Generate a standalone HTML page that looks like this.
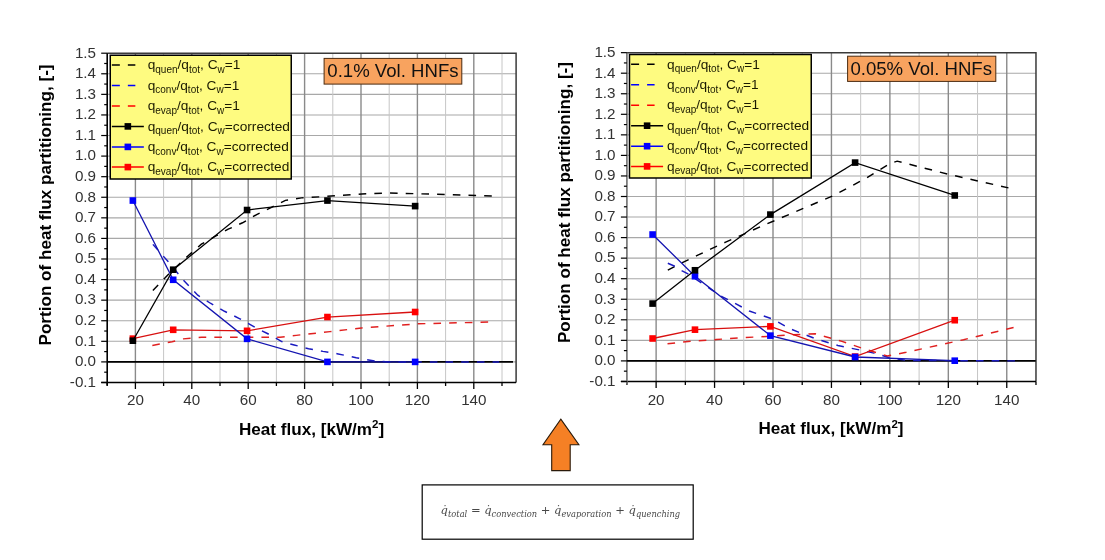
<!DOCTYPE html>
<html><head><meta charset="utf-8"><title>Heat flux partitioning</title>
<style>
html,body{margin:0;padding:0;background:#fff;}
body{width:1105px;height:560px;overflow:hidden;}
svg{display:block;font-family:"Liberation Sans", Arial, sans-serif;}
</style></head>
<body>
<svg width="1105" height="560" viewBox="0 0 1105 560">
<rect x="0" y="0" width="1105" height="560" fill="#fff"/>
<line x1="107.2" y1="361.9" x2="516.1" y2="361.9" stroke="#a8a8a8" stroke-width="1.1"/>
<line x1="107.2" y1="341.32" x2="516.1" y2="341.32" stroke="#a8a8a8" stroke-width="1.1"/>
<line x1="107.2" y1="320.74" x2="516.1" y2="320.74" stroke="#a8a8a8" stroke-width="1.1"/>
<line x1="107.2" y1="300.16" x2="516.1" y2="300.16" stroke="#a8a8a8" stroke-width="1.1"/>
<line x1="107.2" y1="279.58" x2="516.1" y2="279.58" stroke="#a8a8a8" stroke-width="1.1"/>
<line x1="107.2" y1="259" x2="516.1" y2="259" stroke="#a8a8a8" stroke-width="1.1"/>
<line x1="107.2" y1="238.42" x2="516.1" y2="238.42" stroke="#a8a8a8" stroke-width="1.1"/>
<line x1="107.2" y1="217.84" x2="516.1" y2="217.84" stroke="#a8a8a8" stroke-width="1.1"/>
<line x1="107.2" y1="197.26" x2="516.1" y2="197.26" stroke="#a8a8a8" stroke-width="1.1"/>
<line x1="107.2" y1="176.68" x2="516.1" y2="176.68" stroke="#a8a8a8" stroke-width="1.1"/>
<line x1="107.2" y1="156.1" x2="516.1" y2="156.1" stroke="#a8a8a8" stroke-width="1.1"/>
<line x1="107.2" y1="135.52" x2="516.1" y2="135.52" stroke="#a8a8a8" stroke-width="1.1"/>
<line x1="107.2" y1="114.94" x2="516.1" y2="114.94" stroke="#a8a8a8" stroke-width="1.1"/>
<line x1="107.2" y1="94.36" x2="516.1" y2="94.36" stroke="#a8a8a8" stroke-width="1.1"/>
<line x1="107.2" y1="73.78" x2="516.1" y2="73.78" stroke="#a8a8a8" stroke-width="1.1"/>
<line x1="135.4" y1="53.2" x2="135.4" y2="382.48" stroke="#8a8a8a" stroke-width="1.4"/>
<line x1="163.6" y1="53.2" x2="163.6" y2="382.48" stroke="#c6c6c6" stroke-width="1"/>
<line x1="191.8" y1="53.2" x2="191.8" y2="382.48" stroke="#8a8a8a" stroke-width="1.4"/>
<line x1="220" y1="53.2" x2="220" y2="382.48" stroke="#c6c6c6" stroke-width="1"/>
<line x1="248.2" y1="53.2" x2="248.2" y2="382.48" stroke="#8a8a8a" stroke-width="1.4"/>
<line x1="276.4" y1="53.2" x2="276.4" y2="382.48" stroke="#c6c6c6" stroke-width="1"/>
<line x1="304.6" y1="53.2" x2="304.6" y2="382.48" stroke="#8a8a8a" stroke-width="1.4"/>
<line x1="332.8" y1="53.2" x2="332.8" y2="382.48" stroke="#c6c6c6" stroke-width="1"/>
<line x1="361" y1="53.2" x2="361" y2="382.48" stroke="#8a8a8a" stroke-width="1.4"/>
<line x1="389.2" y1="53.2" x2="389.2" y2="382.48" stroke="#c6c6c6" stroke-width="1"/>
<line x1="417.4" y1="53.2" x2="417.4" y2="382.48" stroke="#8a8a8a" stroke-width="1.4"/>
<line x1="445.6" y1="53.2" x2="445.6" y2="382.48" stroke="#c6c6c6" stroke-width="1"/>
<line x1="473.8" y1="53.2" x2="473.8" y2="382.48" stroke="#8a8a8a" stroke-width="1.4"/>
<line x1="502" y1="53.2" x2="502" y2="382.48" stroke="#c6c6c6" stroke-width="1"/>
<polyline points="107.2,53.2 516.1,53.2 516.1,382.48" fill="none" stroke="#3a3a3a" stroke-width="1.5"/>
<line x1="101.2" y1="382.48" x2="516.1" y2="382.48" stroke="#000" stroke-width="1.5"/>
<line x1="107.2" y1="382.48" x2="107.2" y2="385.98" stroke="#000" stroke-width="1.3"/>
<line x1="135.4" y1="382.48" x2="135.4" y2="388.98" stroke="#000" stroke-width="1.3"/>
<line x1="163.6" y1="382.48" x2="163.6" y2="385.98" stroke="#000" stroke-width="1.3"/>
<line x1="191.8" y1="382.48" x2="191.8" y2="388.98" stroke="#000" stroke-width="1.3"/>
<line x1="220" y1="382.48" x2="220" y2="385.98" stroke="#000" stroke-width="1.3"/>
<line x1="248.2" y1="382.48" x2="248.2" y2="388.98" stroke="#000" stroke-width="1.3"/>
<line x1="276.4" y1="382.48" x2="276.4" y2="385.98" stroke="#000" stroke-width="1.3"/>
<line x1="304.6" y1="382.48" x2="304.6" y2="388.98" stroke="#000" stroke-width="1.3"/>
<line x1="332.8" y1="382.48" x2="332.8" y2="385.98" stroke="#000" stroke-width="1.3"/>
<line x1="361" y1="382.48" x2="361" y2="388.98" stroke="#000" stroke-width="1.3"/>
<line x1="389.2" y1="382.48" x2="389.2" y2="385.98" stroke="#000" stroke-width="1.3"/>
<line x1="417.4" y1="382.48" x2="417.4" y2="388.98" stroke="#000" stroke-width="1.3"/>
<line x1="445.6" y1="382.48" x2="445.6" y2="385.98" stroke="#000" stroke-width="1.3"/>
<line x1="473.8" y1="382.48" x2="473.8" y2="388.98" stroke="#000" stroke-width="1.3"/>
<line x1="502" y1="382.48" x2="502" y2="385.98" stroke="#000" stroke-width="1.3"/>
<line x1="107.2" y1="53.2" x2="107.2" y2="385.48" stroke="#000" stroke-width="1.6"/>
<line x1="101.2" y1="382.48" x2="107.2" y2="382.48" stroke="#000" stroke-width="1.2"/>
<line x1="104.2" y1="372.19" x2="107.2" y2="372.19" stroke="#000" stroke-width="1.2"/>
<line x1="101.2" y1="361.9" x2="107.2" y2="361.9" stroke="#000" stroke-width="1.2"/>
<line x1="104.2" y1="351.61" x2="107.2" y2="351.61" stroke="#000" stroke-width="1.2"/>
<line x1="101.2" y1="341.32" x2="107.2" y2="341.32" stroke="#000" stroke-width="1.2"/>
<line x1="104.2" y1="331.03" x2="107.2" y2="331.03" stroke="#000" stroke-width="1.2"/>
<line x1="101.2" y1="320.74" x2="107.2" y2="320.74" stroke="#000" stroke-width="1.2"/>
<line x1="104.2" y1="310.45" x2="107.2" y2="310.45" stroke="#000" stroke-width="1.2"/>
<line x1="101.2" y1="300.16" x2="107.2" y2="300.16" stroke="#000" stroke-width="1.2"/>
<line x1="104.2" y1="289.87" x2="107.2" y2="289.87" stroke="#000" stroke-width="1.2"/>
<line x1="101.2" y1="279.58" x2="107.2" y2="279.58" stroke="#000" stroke-width="1.2"/>
<line x1="104.2" y1="269.29" x2="107.2" y2="269.29" stroke="#000" stroke-width="1.2"/>
<line x1="101.2" y1="259" x2="107.2" y2="259" stroke="#000" stroke-width="1.2"/>
<line x1="104.2" y1="248.71" x2="107.2" y2="248.71" stroke="#000" stroke-width="1.2"/>
<line x1="101.2" y1="238.42" x2="107.2" y2="238.42" stroke="#000" stroke-width="1.2"/>
<line x1="104.2" y1="228.13" x2="107.2" y2="228.13" stroke="#000" stroke-width="1.2"/>
<line x1="101.2" y1="217.84" x2="107.2" y2="217.84" stroke="#000" stroke-width="1.2"/>
<line x1="104.2" y1="207.55" x2="107.2" y2="207.55" stroke="#000" stroke-width="1.2"/>
<line x1="101.2" y1="197.26" x2="107.2" y2="197.26" stroke="#000" stroke-width="1.2"/>
<line x1="104.2" y1="186.97" x2="107.2" y2="186.97" stroke="#000" stroke-width="1.2"/>
<line x1="101.2" y1="176.68" x2="107.2" y2="176.68" stroke="#000" stroke-width="1.2"/>
<line x1="104.2" y1="166.39" x2="107.2" y2="166.39" stroke="#000" stroke-width="1.2"/>
<line x1="101.2" y1="156.1" x2="107.2" y2="156.1" stroke="#000" stroke-width="1.2"/>
<line x1="104.2" y1="145.81" x2="107.2" y2="145.81" stroke="#000" stroke-width="1.2"/>
<line x1="101.2" y1="135.52" x2="107.2" y2="135.52" stroke="#000" stroke-width="1.2"/>
<line x1="104.2" y1="125.23" x2="107.2" y2="125.23" stroke="#000" stroke-width="1.2"/>
<line x1="101.2" y1="114.94" x2="107.2" y2="114.94" stroke="#000" stroke-width="1.2"/>
<line x1="104.2" y1="104.65" x2="107.2" y2="104.65" stroke="#000" stroke-width="1.2"/>
<line x1="101.2" y1="94.36" x2="107.2" y2="94.36" stroke="#000" stroke-width="1.2"/>
<line x1="104.2" y1="84.07" x2="107.2" y2="84.07" stroke="#000" stroke-width="1.2"/>
<line x1="101.2" y1="73.78" x2="107.2" y2="73.78" stroke="#000" stroke-width="1.2"/>
<line x1="104.2" y1="63.49" x2="107.2" y2="63.49" stroke="#000" stroke-width="1.2"/>
<line x1="101.2" y1="53.2" x2="107.2" y2="53.2" stroke="#000" stroke-width="1.2"/>
<text x="96" y="386.78" text-anchor="end" font-size="15.2" fill="#333">-0.1</text>
<text x="96" y="366.2" text-anchor="end" font-size="15.2" fill="#333">0.0</text>
<text x="96" y="345.62" text-anchor="end" font-size="15.2" fill="#333">0.1</text>
<text x="96" y="325.04" text-anchor="end" font-size="15.2" fill="#333">0.2</text>
<text x="96" y="304.46" text-anchor="end" font-size="15.2" fill="#333">0.3</text>
<text x="96" y="283.88" text-anchor="end" font-size="15.2" fill="#333">0.4</text>
<text x="96" y="263.3" text-anchor="end" font-size="15.2" fill="#333">0.5</text>
<text x="96" y="242.72" text-anchor="end" font-size="15.2" fill="#333">0.6</text>
<text x="96" y="222.14" text-anchor="end" font-size="15.2" fill="#333">0.7</text>
<text x="96" y="201.56" text-anchor="end" font-size="15.2" fill="#333">0.8</text>
<text x="96" y="180.98" text-anchor="end" font-size="15.2" fill="#333">0.9</text>
<text x="96" y="160.4" text-anchor="end" font-size="15.2" fill="#333">1.0</text>
<text x="96" y="139.82" text-anchor="end" font-size="15.2" fill="#333">1.1</text>
<text x="96" y="119.24" text-anchor="end" font-size="15.2" fill="#333">1.2</text>
<text x="96" y="98.66" text-anchor="end" font-size="15.2" fill="#333">1.3</text>
<text x="96" y="78.08" text-anchor="end" font-size="15.2" fill="#333">1.4</text>
<text x="96" y="57.5" text-anchor="end" font-size="15.2" fill="#333">1.5</text>
<text x="135.4" y="405" text-anchor="middle" font-size="15.2" fill="#333">20</text>
<text x="191.8" y="405" text-anchor="middle" font-size="15.2" fill="#333">40</text>
<text x="248.2" y="405" text-anchor="middle" font-size="15.2" fill="#333">60</text>
<text x="304.6" y="405" text-anchor="middle" font-size="15.2" fill="#333">80</text>
<text x="361" y="405" text-anchor="middle" font-size="15.2" fill="#333">100</text>
<text x="417.4" y="405" text-anchor="middle" font-size="15.2" fill="#333">120</text>
<text x="473.8" y="405" text-anchor="middle" font-size="15.2" fill="#333">140</text>
<line x1="107.2" y1="361.9" x2="513" y2="361.9" stroke="#000" stroke-width="1.6"/>
<polyline points="152.88,290.49 169.24,273.41 187.01,256.74 201.39,244.18 215.49,236.16 228.18,229.16 242.56,222.78 256.66,214.55 271.04,207.55 285.42,200.35 301.5,197.88 319.26,196.85 361.85,193.97 389.76,192.94 445.6,194.58 494.39,196.03" fill="none" stroke="#000" stroke-width="1.45" stroke-dasharray="7.6 8.1"/>
<polyline points="152.88,244.39 167.83,261.26 183.34,279.99 197.72,295.22 210.41,303.25 224.51,311.27 238.89,318.27 254.97,327.33 267.38,333.5 281.76,341.53 294.17,345.02 308.55,348.73 322.93,351.4 337.03,353.67 356.21,357.78 376.23,361.28 389.2,361.9 499.18,361.9" fill="none" stroke="#1a1ac0" stroke-width="1.45" stroke-dasharray="7.6 8.1"/>
<polyline points="152.32,345.44 172.06,341.73 183.34,338.85 201.39,337.2 280.07,337.2 296.14,335.35 329.98,331.65 361.56,327.94 417.96,323.83 490.44,321.97" fill="none" stroke="#e02020" stroke-width="1.45" stroke-dasharray="7.6 8.1"/>
<polyline points="132.86,338.64 173.19,329.8 247.07,330.82 327.44,317.04 415.14,311.99" fill="none" stroke="#d81010" stroke-width="1.3"/>
<rect x="129.56" y="335.34" width="6.6" height="6.6" fill="#ff0000"/>
<rect x="169.89" y="326.5" width="6.6" height="6.6" fill="#ff0000"/>
<rect x="243.77" y="327.52" width="6.6" height="6.6" fill="#ff0000"/>
<rect x="324.14" y="313.74" width="6.6" height="6.6" fill="#ff0000"/>
<rect x="411.84" y="308.69" width="6.6" height="6.6" fill="#ff0000"/>
<polyline points="132.86,200.55 173.19,279.79 247.07,338.85 327.44,361.9 415.14,361.9" fill="none" stroke="#1414b0" stroke-width="1.3"/>
<rect x="129.56" y="197.25" width="6.6" height="6.6" fill="#0000ff"/>
<rect x="169.89" y="276.49" width="6.6" height="6.6" fill="#0000ff"/>
<rect x="243.77" y="335.55" width="6.6" height="6.6" fill="#0000ff"/>
<rect x="324.14" y="358.6" width="6.6" height="6.6" fill="#0000ff"/>
<rect x="411.84" y="358.6" width="6.6" height="6.6" fill="#0000ff"/>
<polyline points="132.86,340.7 173.19,269.7 247.07,210.02 327.44,200.55 415.14,206.11" fill="none" stroke="#000" stroke-width="1.3"/>
<rect x="129.56" y="337.4" width="6.6" height="6.6" fill="#000"/>
<rect x="169.89" y="266.4" width="6.6" height="6.6" fill="#000"/>
<rect x="243.77" y="206.72" width="6.6" height="6.6" fill="#000"/>
<rect x="324.14" y="197.25" width="6.6" height="6.6" fill="#000"/>
<rect x="411.84" y="202.81" width="6.6" height="6.6" fill="#000"/>
<rect x="110.25" y="55.25" width="181" height="123.75" fill="#fefb80" stroke="#000" stroke-width="1.5"/>
<line x1="111.85" y1="65" x2="135.35" y2="65" stroke="#000" stroke-width="1.5" stroke-dasharray="8 8"/>
<line x1="111.85" y1="85.4" x2="135.35" y2="85.4" stroke="#0000ff" stroke-width="1.5" stroke-dasharray="8 8"/>
<line x1="111.85" y1="105.9" x2="135.35" y2="105.9" stroke="#ff0000" stroke-width="1.5" stroke-dasharray="8 8"/>
<line x1="111.85" y1="126.4" x2="143.85" y2="126.4" stroke="#000" stroke-width="1.5"/>
<rect x="124.55" y="123.1" width="6.6" height="6.6" fill="#000"/>
<line x1="111.85" y1="146.9" x2="143.85" y2="146.9" stroke="#0000ff" stroke-width="1.5"/>
<rect x="124.55" y="143.6" width="6.6" height="6.6" fill="#0000ff"/>
<line x1="111.85" y1="167.1" x2="143.85" y2="167.1" stroke="#ff0000" stroke-width="1.5"/>
<rect x="124.55" y="163.8" width="6.6" height="6.6" fill="#ff0000"/>
<text x="147.7" y="69.2" font-size="13.7" fill="#1a1a00">q<tspan font-size="10" dy="3.8">quen</tspan><tspan dy="-3.8">/q</tspan><tspan font-size="10" dy="3.8">tot</tspan><tspan dy="-3.8">, C</tspan><tspan font-size="10" dy="3.8">w</tspan><tspan dy="-3.8">=1</tspan></text>
<text x="147.7" y="89.6" font-size="13.7" fill="#1a1a00">q<tspan font-size="10" dy="3.8">conv</tspan><tspan dy="-3.8">/q</tspan><tspan font-size="10" dy="3.8">tot</tspan><tspan dy="-3.8">, C</tspan><tspan font-size="10" dy="3.8">w</tspan><tspan dy="-3.8">=1</tspan></text>
<text x="147.7" y="110.1" font-size="13.7" fill="#1a1a00">q<tspan font-size="10" dy="3.8">evap</tspan><tspan dy="-3.8">/q</tspan><tspan font-size="10" dy="3.8">tot</tspan><tspan dy="-3.8">, C</tspan><tspan font-size="10" dy="3.8">w</tspan><tspan dy="-3.8">=1</tspan></text>
<text x="147.7" y="130.6" font-size="13.7" fill="#1a1a00">q<tspan font-size="10" dy="3.8">quen</tspan><tspan dy="-3.8">/q</tspan><tspan font-size="10" dy="3.8">tot</tspan><tspan dy="-3.8">, C</tspan><tspan font-size="10" dy="3.8">w</tspan><tspan dy="-3.8">=corrected</tspan></text>
<text x="147.7" y="151.1" font-size="13.7" fill="#1a1a00">q<tspan font-size="10" dy="3.8">conv</tspan><tspan dy="-3.8">/q</tspan><tspan font-size="10" dy="3.8">tot</tspan><tspan dy="-3.8">, C</tspan><tspan font-size="10" dy="3.8">w</tspan><tspan dy="-3.8">=corrected</tspan></text>
<text x="147.7" y="171.3" font-size="13.7" fill="#1a1a00">q<tspan font-size="10" dy="3.8">evap</tspan><tspan dy="-3.8">/q</tspan><tspan font-size="10" dy="3.8">tot</tspan><tspan dy="-3.8">, C</tspan><tspan font-size="10" dy="3.8">w</tspan><tspan dy="-3.8">=corrected</tspan></text>
<rect x="324.1" y="58.4" width="137.7" height="25.7" fill="#f8a35f" stroke="#4a2a10" stroke-width="1"/><text x="327.3" y="77.3" font-size="18.6" fill="#111">0.1% Vol. HNFs</text>
<text transform="translate(50.5,345.5) rotate(-90)" font-size="17.1" font-weight="bold" fill="#000">Portion of heat flux partitioning, [-]</text><text x="239" y="434.6" font-size="17.1" font-weight="bold" fill="#000">Heat flux, [kW/m<tspan font-size="11.5" dy="-6.5">2</tspan><tspan dy="6.5">]</tspan></text>
<line x1="626.9" y1="360.9" x2="1035.98" y2="360.9" stroke="#a8a8a8" stroke-width="1.1"/>
<line x1="626.9" y1="340.35" x2="1035.98" y2="340.35" stroke="#a8a8a8" stroke-width="1.1"/>
<line x1="626.9" y1="319.8" x2="1035.98" y2="319.8" stroke="#a8a8a8" stroke-width="1.1"/>
<line x1="626.9" y1="299.25" x2="1035.98" y2="299.25" stroke="#a8a8a8" stroke-width="1.1"/>
<line x1="626.9" y1="278.7" x2="1035.98" y2="278.7" stroke="#a8a8a8" stroke-width="1.1"/>
<line x1="626.9" y1="258.15" x2="1035.98" y2="258.15" stroke="#a8a8a8" stroke-width="1.1"/>
<line x1="626.9" y1="237.6" x2="1035.98" y2="237.6" stroke="#a8a8a8" stroke-width="1.1"/>
<line x1="626.9" y1="217.05" x2="1035.98" y2="217.05" stroke="#a8a8a8" stroke-width="1.1"/>
<line x1="626.9" y1="196.5" x2="1035.98" y2="196.5" stroke="#a8a8a8" stroke-width="1.1"/>
<line x1="626.9" y1="175.95" x2="1035.98" y2="175.95" stroke="#a8a8a8" stroke-width="1.1"/>
<line x1="626.9" y1="155.4" x2="1035.98" y2="155.4" stroke="#a8a8a8" stroke-width="1.1"/>
<line x1="626.9" y1="134.85" x2="1035.98" y2="134.85" stroke="#a8a8a8" stroke-width="1.1"/>
<line x1="626.9" y1="114.3" x2="1035.98" y2="114.3" stroke="#a8a8a8" stroke-width="1.1"/>
<line x1="626.9" y1="93.75" x2="1035.98" y2="93.75" stroke="#a8a8a8" stroke-width="1.1"/>
<line x1="626.9" y1="73.2" x2="1035.98" y2="73.2" stroke="#a8a8a8" stroke-width="1.1"/>
<line x1="656.12" y1="52.65" x2="656.12" y2="381.45" stroke="#8a8a8a" stroke-width="1.4"/>
<line x1="685.34" y1="52.65" x2="685.34" y2="381.45" stroke="#c6c6c6" stroke-width="1"/>
<line x1="714.56" y1="52.65" x2="714.56" y2="381.45" stroke="#8a8a8a" stroke-width="1.4"/>
<line x1="743.78" y1="52.65" x2="743.78" y2="381.45" stroke="#c6c6c6" stroke-width="1"/>
<line x1="773" y1="52.65" x2="773" y2="381.45" stroke="#8a8a8a" stroke-width="1.4"/>
<line x1="802.22" y1="52.65" x2="802.22" y2="381.45" stroke="#c6c6c6" stroke-width="1"/>
<line x1="831.44" y1="52.65" x2="831.44" y2="381.45" stroke="#8a8a8a" stroke-width="1.4"/>
<line x1="860.66" y1="52.65" x2="860.66" y2="381.45" stroke="#c6c6c6" stroke-width="1"/>
<line x1="889.88" y1="52.65" x2="889.88" y2="381.45" stroke="#8a8a8a" stroke-width="1.4"/>
<line x1="919.1" y1="52.65" x2="919.1" y2="381.45" stroke="#c6c6c6" stroke-width="1"/>
<line x1="948.32" y1="52.65" x2="948.32" y2="381.45" stroke="#8a8a8a" stroke-width="1.4"/>
<line x1="977.54" y1="52.65" x2="977.54" y2="381.45" stroke="#c6c6c6" stroke-width="1"/>
<line x1="1006.76" y1="52.65" x2="1006.76" y2="381.45" stroke="#8a8a8a" stroke-width="1.4"/>
<polyline points="626.9,52.65 1035.98,52.65 1035.98,381.45" fill="none" stroke="#3a3a3a" stroke-width="1.5"/>
<line x1="620.9" y1="381.45" x2="1035.98" y2="381.45" stroke="#000" stroke-width="1.5"/>
<line x1="626.9" y1="381.45" x2="626.9" y2="384.95" stroke="#000" stroke-width="1.3"/>
<line x1="656.12" y1="381.45" x2="656.12" y2="387.95" stroke="#000" stroke-width="1.3"/>
<line x1="685.34" y1="381.45" x2="685.34" y2="384.95" stroke="#000" stroke-width="1.3"/>
<line x1="714.56" y1="381.45" x2="714.56" y2="387.95" stroke="#000" stroke-width="1.3"/>
<line x1="743.78" y1="381.45" x2="743.78" y2="384.95" stroke="#000" stroke-width="1.3"/>
<line x1="773" y1="381.45" x2="773" y2="387.95" stroke="#000" stroke-width="1.3"/>
<line x1="802.22" y1="381.45" x2="802.22" y2="384.95" stroke="#000" stroke-width="1.3"/>
<line x1="831.44" y1="381.45" x2="831.44" y2="387.95" stroke="#000" stroke-width="1.3"/>
<line x1="860.66" y1="381.45" x2="860.66" y2="384.95" stroke="#000" stroke-width="1.3"/>
<line x1="889.88" y1="381.45" x2="889.88" y2="387.95" stroke="#000" stroke-width="1.3"/>
<line x1="919.1" y1="381.45" x2="919.1" y2="384.95" stroke="#000" stroke-width="1.3"/>
<line x1="948.32" y1="381.45" x2="948.32" y2="387.95" stroke="#000" stroke-width="1.3"/>
<line x1="977.54" y1="381.45" x2="977.54" y2="384.95" stroke="#000" stroke-width="1.3"/>
<line x1="1006.76" y1="381.45" x2="1006.76" y2="387.95" stroke="#000" stroke-width="1.3"/>
<line x1="1035.98" y1="381.45" x2="1035.98" y2="384.95" stroke="#000" stroke-width="1.3"/>
<line x1="626.9" y1="52.65" x2="626.9" y2="384.45" stroke="#6e6e6e" stroke-width="1.6"/>
<line x1="620.9" y1="381.45" x2="626.9" y2="381.45" stroke="#000" stroke-width="1.2"/>
<line x1="623.9" y1="371.17" x2="626.9" y2="371.17" stroke="#000" stroke-width="1.2"/>
<line x1="620.9" y1="360.9" x2="626.9" y2="360.9" stroke="#000" stroke-width="1.2"/>
<line x1="623.9" y1="350.62" x2="626.9" y2="350.62" stroke="#000" stroke-width="1.2"/>
<line x1="620.9" y1="340.35" x2="626.9" y2="340.35" stroke="#000" stroke-width="1.2"/>
<line x1="623.9" y1="330.07" x2="626.9" y2="330.07" stroke="#000" stroke-width="1.2"/>
<line x1="620.9" y1="319.8" x2="626.9" y2="319.8" stroke="#000" stroke-width="1.2"/>
<line x1="623.9" y1="309.52" x2="626.9" y2="309.52" stroke="#000" stroke-width="1.2"/>
<line x1="620.9" y1="299.25" x2="626.9" y2="299.25" stroke="#000" stroke-width="1.2"/>
<line x1="623.9" y1="288.97" x2="626.9" y2="288.97" stroke="#000" stroke-width="1.2"/>
<line x1="620.9" y1="278.7" x2="626.9" y2="278.7" stroke="#000" stroke-width="1.2"/>
<line x1="623.9" y1="268.42" x2="626.9" y2="268.42" stroke="#000" stroke-width="1.2"/>
<line x1="620.9" y1="258.15" x2="626.9" y2="258.15" stroke="#000" stroke-width="1.2"/>
<line x1="623.9" y1="247.87" x2="626.9" y2="247.87" stroke="#000" stroke-width="1.2"/>
<line x1="620.9" y1="237.6" x2="626.9" y2="237.6" stroke="#000" stroke-width="1.2"/>
<line x1="623.9" y1="227.32" x2="626.9" y2="227.32" stroke="#000" stroke-width="1.2"/>
<line x1="620.9" y1="217.05" x2="626.9" y2="217.05" stroke="#000" stroke-width="1.2"/>
<line x1="623.9" y1="206.77" x2="626.9" y2="206.77" stroke="#000" stroke-width="1.2"/>
<line x1="620.9" y1="196.5" x2="626.9" y2="196.5" stroke="#000" stroke-width="1.2"/>
<line x1="623.9" y1="186.22" x2="626.9" y2="186.22" stroke="#000" stroke-width="1.2"/>
<line x1="620.9" y1="175.95" x2="626.9" y2="175.95" stroke="#000" stroke-width="1.2"/>
<line x1="623.9" y1="165.67" x2="626.9" y2="165.67" stroke="#000" stroke-width="1.2"/>
<line x1="620.9" y1="155.4" x2="626.9" y2="155.4" stroke="#000" stroke-width="1.2"/>
<line x1="623.9" y1="145.12" x2="626.9" y2="145.12" stroke="#000" stroke-width="1.2"/>
<line x1="620.9" y1="134.85" x2="626.9" y2="134.85" stroke="#000" stroke-width="1.2"/>
<line x1="623.9" y1="124.57" x2="626.9" y2="124.57" stroke="#000" stroke-width="1.2"/>
<line x1="620.9" y1="114.3" x2="626.9" y2="114.3" stroke="#000" stroke-width="1.2"/>
<line x1="623.9" y1="104.02" x2="626.9" y2="104.02" stroke="#000" stroke-width="1.2"/>
<line x1="620.9" y1="93.75" x2="626.9" y2="93.75" stroke="#000" stroke-width="1.2"/>
<line x1="623.9" y1="83.47" x2="626.9" y2="83.47" stroke="#000" stroke-width="1.2"/>
<line x1="620.9" y1="73.2" x2="626.9" y2="73.2" stroke="#000" stroke-width="1.2"/>
<line x1="623.9" y1="62.93" x2="626.9" y2="62.93" stroke="#000" stroke-width="1.2"/>
<line x1="620.9" y1="52.65" x2="626.9" y2="52.65" stroke="#000" stroke-width="1.2"/>
<text x="615.5" y="385.75" text-anchor="end" font-size="15.2" fill="#333">-0.1</text>
<text x="615.5" y="365.2" text-anchor="end" font-size="15.2" fill="#333">0.0</text>
<text x="615.5" y="344.65" text-anchor="end" font-size="15.2" fill="#333">0.1</text>
<text x="615.5" y="324.1" text-anchor="end" font-size="15.2" fill="#333">0.2</text>
<text x="615.5" y="303.55" text-anchor="end" font-size="15.2" fill="#333">0.3</text>
<text x="615.5" y="283" text-anchor="end" font-size="15.2" fill="#333">0.4</text>
<text x="615.5" y="262.45" text-anchor="end" font-size="15.2" fill="#333">0.5</text>
<text x="615.5" y="241.9" text-anchor="end" font-size="15.2" fill="#333">0.6</text>
<text x="615.5" y="221.35" text-anchor="end" font-size="15.2" fill="#333">0.7</text>
<text x="615.5" y="200.8" text-anchor="end" font-size="15.2" fill="#333">0.8</text>
<text x="615.5" y="180.25" text-anchor="end" font-size="15.2" fill="#333">0.9</text>
<text x="615.5" y="159.7" text-anchor="end" font-size="15.2" fill="#333">1.0</text>
<text x="615.5" y="139.15" text-anchor="end" font-size="15.2" fill="#333">1.1</text>
<text x="615.5" y="118.6" text-anchor="end" font-size="15.2" fill="#333">1.2</text>
<text x="615.5" y="98.05" text-anchor="end" font-size="15.2" fill="#333">1.3</text>
<text x="615.5" y="77.5" text-anchor="end" font-size="15.2" fill="#333">1.4</text>
<text x="615.5" y="56.95" text-anchor="end" font-size="15.2" fill="#333">1.5</text>
<text x="656.12" y="405" text-anchor="middle" font-size="15.2" fill="#333">20</text>
<text x="714.56" y="405" text-anchor="middle" font-size="15.2" fill="#333">40</text>
<text x="773" y="405" text-anchor="middle" font-size="15.2" fill="#333">60</text>
<text x="831.44" y="405" text-anchor="middle" font-size="15.2" fill="#333">80</text>
<text x="889.88" y="405" text-anchor="middle" font-size="15.2" fill="#333">100</text>
<text x="948.32" y="405" text-anchor="middle" font-size="15.2" fill="#333">120</text>
<text x="1006.76" y="405" text-anchor="middle" font-size="15.2" fill="#333">140</text>
<line x1="626.9" y1="360.9" x2="1035.7" y2="360.9" stroke="#000" stroke-width="1.6"/>
<polyline points="667.81,270.07 681.83,262.88 696.74,255.68 710.47,249.11 725.66,242.12 768.03,223.42 833.78,195.47 866.8,177.8 889.59,163.83 897.18,161.15 947.74,174.1 1011.14,188.49" fill="none" stroke="#000" stroke-width="1.45" stroke-dasharray="7.6 8.1"/>
<polyline points="667.81,263.29 675.11,266.37 681.69,270.69 687.97,273.97 711.64,289.8 722.45,296.78 749.33,310.96 772.42,318.98 790.24,328.84 815.37,338.71 837.87,345.49 860.66,350.21 874.1,353.09 889.88,357.82 907.41,360.49 1016.69,360.9" fill="none" stroke="#1a1ac0" stroke-width="1.45" stroke-dasharray="7.6 8.1"/>
<polyline points="667.52,343.84 690.89,341.17 716.31,339.53 741.73,337.68 766.86,336.45 787.61,335.01 815.37,333.77 841.96,341.38 861.83,348.16 887.25,355.97 906.24,352.27 963.51,339.73 1014.65,327.2" fill="none" stroke="#e02020" stroke-width="1.45" stroke-dasharray="7.6 8.1"/>
<polyline points="652.61,338.5 694.98,329.66 770.37,326.38 855.11,356.58 954.75,320.21" fill="none" stroke="#d81010" stroke-width="1.3"/>
<rect x="649.31" y="335.2" width="6.6" height="6.6" fill="#ff0000"/>
<rect x="691.68" y="326.36" width="6.6" height="6.6" fill="#ff0000"/>
<rect x="767.07" y="323.08" width="6.6" height="6.6" fill="#ff0000"/>
<rect x="851.81" y="353.28" width="6.6" height="6.6" fill="#ff0000"/>
<rect x="951.45" y="316.91" width="6.6" height="6.6" fill="#ff0000"/>
<polyline points="652.61,234.52 694.98,276.23 770.37,335.62 855.11,357 954.75,360.69" fill="none" stroke="#1414b0" stroke-width="1.3"/>
<rect x="649.31" y="231.22" width="6.6" height="6.6" fill="#0000ff"/>
<rect x="691.68" y="272.93" width="6.6" height="6.6" fill="#0000ff"/>
<rect x="767.07" y="332.32" width="6.6" height="6.6" fill="#0000ff"/>
<rect x="851.81" y="353.7" width="6.6" height="6.6" fill="#0000ff"/>
<rect x="951.45" y="357.39" width="6.6" height="6.6" fill="#0000ff"/>
<polyline points="652.61,303.57 694.98,270.27 770.37,214.58 855.11,162.59 954.75,195.47" fill="none" stroke="#000" stroke-width="1.3"/>
<rect x="649.31" y="300.27" width="6.6" height="6.6" fill="#000"/>
<rect x="691.68" y="266.97" width="6.6" height="6.6" fill="#000"/>
<rect x="767.07" y="211.28" width="6.6" height="6.6" fill="#000"/>
<rect x="851.81" y="159.29" width="6.6" height="6.6" fill="#000"/>
<rect x="951.45" y="192.17" width="6.6" height="6.6" fill="#000"/>
<rect x="629.5" y="54.5" width="181.75" height="123.5" fill="#fefb80" stroke="#000" stroke-width="1.5"/>
<line x1="631.1" y1="64.3" x2="654.6" y2="64.3" stroke="#000" stroke-width="1.5" stroke-dasharray="8 8"/>
<line x1="631.1" y1="84.7" x2="654.6" y2="84.7" stroke="#0000ff" stroke-width="1.5" stroke-dasharray="8 8"/>
<line x1="631.1" y1="105.2" x2="654.6" y2="105.2" stroke="#ff0000" stroke-width="1.5" stroke-dasharray="8 8"/>
<line x1="631.1" y1="125.7" x2="663.1" y2="125.7" stroke="#000" stroke-width="1.5"/>
<rect x="643.8" y="122.4" width="6.6" height="6.6" fill="#000"/>
<line x1="631.1" y1="146.2" x2="663.1" y2="146.2" stroke="#0000ff" stroke-width="1.5"/>
<rect x="643.8" y="142.9" width="6.6" height="6.6" fill="#0000ff"/>
<line x1="631.1" y1="166.4" x2="663.1" y2="166.4" stroke="#ff0000" stroke-width="1.5"/>
<rect x="643.8" y="163.1" width="6.6" height="6.6" fill="#ff0000"/>
<text x="667" y="68.5" font-size="13.7" fill="#1a1a00">q<tspan font-size="10" dy="3.8">quen</tspan><tspan dy="-3.8">/q</tspan><tspan font-size="10" dy="3.8">tot</tspan><tspan dy="-3.8">, C</tspan><tspan font-size="10" dy="3.8">w</tspan><tspan dy="-3.8">=1</tspan></text>
<text x="667" y="88.9" font-size="13.7" fill="#1a1a00">q<tspan font-size="10" dy="3.8">conv</tspan><tspan dy="-3.8">/q</tspan><tspan font-size="10" dy="3.8">tot</tspan><tspan dy="-3.8">, C</tspan><tspan font-size="10" dy="3.8">w</tspan><tspan dy="-3.8">=1</tspan></text>
<text x="667" y="109.4" font-size="13.7" fill="#1a1a00">q<tspan font-size="10" dy="3.8">evap</tspan><tspan dy="-3.8">/q</tspan><tspan font-size="10" dy="3.8">tot</tspan><tspan dy="-3.8">, C</tspan><tspan font-size="10" dy="3.8">w</tspan><tspan dy="-3.8">=1</tspan></text>
<text x="667" y="129.9" font-size="13.7" fill="#1a1a00">q<tspan font-size="10" dy="3.8">quen</tspan><tspan dy="-3.8">/q</tspan><tspan font-size="10" dy="3.8">tot</tspan><tspan dy="-3.8">, C</tspan><tspan font-size="10" dy="3.8">w</tspan><tspan dy="-3.8">=corrected</tspan></text>
<text x="667" y="150.4" font-size="13.7" fill="#1a1a00">q<tspan font-size="10" dy="3.8">conv</tspan><tspan dy="-3.8">/q</tspan><tspan font-size="10" dy="3.8">tot</tspan><tspan dy="-3.8">, C</tspan><tspan font-size="10" dy="3.8">w</tspan><tspan dy="-3.8">=corrected</tspan></text>
<text x="667" y="170.6" font-size="13.7" fill="#1a1a00">q<tspan font-size="10" dy="3.8">evap</tspan><tspan dy="-3.8">/q</tspan><tspan font-size="10" dy="3.8">tot</tspan><tspan dy="-3.8">, C</tspan><tspan font-size="10" dy="3.8">w</tspan><tspan dy="-3.8">=corrected</tspan></text>
<rect x="847.6" y="56.2" width="148.2" height="25.2" fill="#f8a35f" stroke="#4a2a10" stroke-width="1"/><text x="850.4" y="75.2" font-size="18.6" fill="#111">0.05% Vol. HNFs</text>
<text transform="translate(570.1,343.1) rotate(-90)" font-size="17.1" font-weight="bold" fill="#000">Portion of heat flux partitioning, [-]</text><text x="758.4" y="434" font-size="17.1" font-weight="bold" fill="#000">Heat flux, [kW/m<tspan font-size="11.5" dy="-6.5">2</tspan><tspan dy="6.5">]</tspan></text>
<polygon points="560.8,419.1 578.9,444.8 570.2,444.8 570.2,470.6 551.7,470.6 551.7,444.8 543,444.8" fill="#f58025" stroke="#2a1a0a" stroke-width="1.1" stroke-linejoin="miter"/>
<rect x="422.2" y="484.9" width="271" height="54.3" fill="#fff" stroke="#000" stroke-width="1.2"/>
<text x="440.6" y="514" font-family="'DejaVu Serif', serif" font-size="11.5" fill="#484848" font-style="italic">q&#775;<tspan font-size="8.3" dy="3">total</tspan><tspan dy="-3" font-style="normal"> = </tspan>q&#775;<tspan font-size="8.3" dy="3">convection</tspan><tspan dy="-3" font-style="normal"> + </tspan>q&#775;<tspan font-size="8.3" dy="3">evaporation</tspan><tspan dy="-3" font-style="normal"> + </tspan>q&#775;<tspan font-size="8.3" dy="3">quenching</tspan></text>
</svg>
</body></html>
